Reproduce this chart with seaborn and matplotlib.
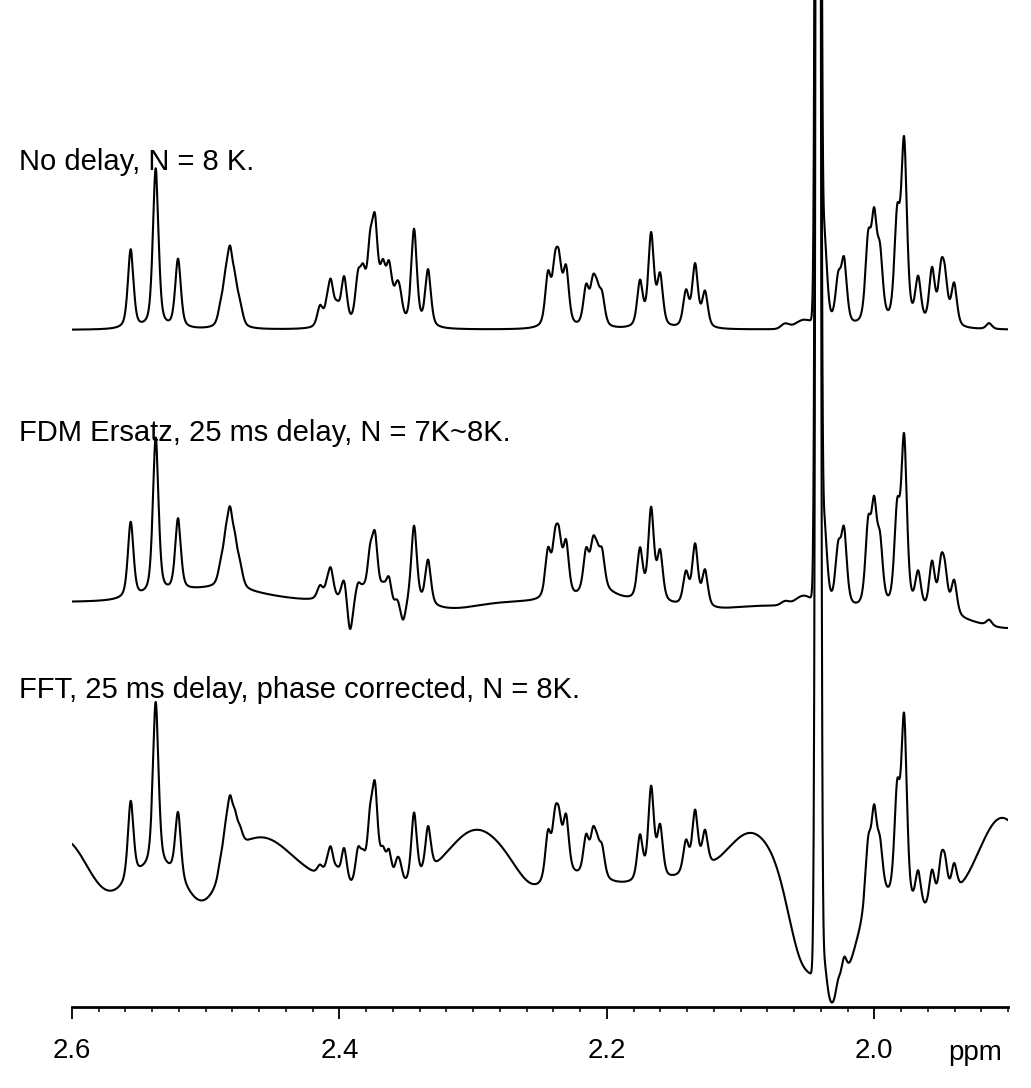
import numpy as np
import pandas as pd
import matplotlib
matplotlib.use("Agg")
import matplotlib.pyplot as plt
from matplotlib.ticker import MultipleLocator
import seaborn as sns

# peak table (ppm), heights in plot units for each trace
pos = [2.5561, 2.5374, 2.5207,
       2.4886, 2.4850, 2.4818, 2.4781, 2.4743,
       2.4145, 2.4093, 2.4065, 2.4018, 2.3965, 2.3921, 2.3861, 2.3823,
       2.3771, 2.3734, 2.3696, 2.3674, 2.3629, 2.3599, 2.3569, 2.3547,
       2.3524, 2.3442, 2.3337,
       2.2440, 2.2387, 2.2357, 2.2305,
       2.2155, 2.2103, 2.2073, 2.2036,
       2.1752, 2.1669, 2.1602,
       2.1408, 2.1340, 2.1266,
       2.0375, 2.0270, 2.0226, 2.0046, 2.0001, 1.9957,
       1.9829, 1.9777, 1.9672, 1.9568, 1.9500, 1.9471, 1.9403, 1.9141]
h_top = [79, 160, 69,
         17, 34, 61, 34, 17,
         20, 12, 40, 15, 47, 0, 42, 42,
         65, 88, 8, 45, 50, 8, 25, 20,
         0, 97, 57,
         50, 50, 50, 55,
         38, 38, 25, 28,
         45, 92, 50,
         35, 62, 35,
         95, 43, 62, 78, 95, 62,
         100, 178, 45, 55, 48, 38, 42, 6]
h_fdm = [76, 157, 72,
         17, 34, 60, 34, 17,
         13, 8, 29, 0, 24, -35, 16, 7,
         40, 58, 0, 10, 24, -8, 5, 0,
         -22, 78, 45,
         46, 47, 47, 52,
         40, 40, 24, 34,
         50, 91, 48,
         32, 61, 36,
         85, 53, 72, 76, 91, 58,
         92, 167, 36, 48, 43, 33, 34, 6]
h_fft = [79, 166, 66,
         14, 28, 50, 28, 14,
         10, 8, 30, 10, 37, 0, 35, 25,
         60, 92, 5, 30, 34, 0, 20, 15,
         0, 70, 46,
         46, 49, 43, 55,
         38, 38, 23, 28,
         45, 92, 51,
         32, 60, 36,
         35, 20, 28, 60, 80, 45,
         105, 185, 38, 38, 38, 32, 30, 0]

# the tall singlet near 2.04 ppm (runs off the top of the frame)
big_pos = 2.0420
big_height = [3000, 3000, 3000]

# trace offsets and slow baseline components (centre ppm, amplitude, sigma ppm)
offsets = [677, 405, 140]
base_top = [(2.0667, 5, 0.003), (2.053, 8, 0.006)]
base_fdm = [(2.493, 13, 0.035), (2.317, -7, 0.02), (2.205, 9, 0.012),
            (2.125, -7, 0.025), (2.0667, 4, 0.003), (2.053, 10, 0.006),
            (1.98, -12, 0.06), (1.895, -22, 0.03)]
base_fft = [(2.605, 30, 0.015), (2.5731, -28, 0.015), (2.502, -38, 0.013),
            (2.4571, 30, 0.02), (2.372, -30, 0.035), (2.2986, 40, 0.02),
            (2.2552, -20, 0.012), (2.1826, -18, 0.04), (2.0929, 35, 0.016),
            (2.0525, -95, 0.011), (2.0318, -100, 0.009), (2.018, -60, 0.01),
            (1.966, -50, 0.03), (1.906, 55, 0.015)]

labels = ["No delay, N = 8 K.",
          "FDM Ersatz, 25 ms delay, N = 7K~8K.",
          "FFT, 25 ms delay, phase corrected, N = 8K."]


def pv(x, c, h, fwhm=0.0050, eta=0.5):
    d = (x - c) / (fwhm / 2)
    return h * (eta / (1 + d**2) + (1 - eta) * np.exp(-np.log(2) * d**2))


ppm = np.linspace(1.9, 2.6, 14001)
frames = []
for k, (heights, base) in enumerate(zip([h_top, h_fdm, h_fft],
                                        [base_top, base_fdm, base_fft])):
    y = np.full_like(ppm, offsets[k], dtype=float)
    for c, h in zip(pos, heights):
        y += pv(ppm, c, h)
    y += pv(ppm, big_pos, big_height[k], fwhm=0.0032, eta=0.0)
    for c, a, s in base:
        y += a * np.exp(-0.5 * ((ppm - c) / s) ** 2)
    frames.append(pd.DataFrame({"ppm": ppm, "intensity": y, "trace": k}))
df = pd.concat(frames, ignore_index=True)

sns.set_style("white")
plt.rcParams["font.family"] = ["Liberation Sans", "DejaVu Sans"]
plt.rcParams["text.color"] = "black"
plt.rcParams["xtick.color"] = "black"
plt.rcParams["xtick.labelcolor"] = "black"

fig = plt.figure(figsize=(10.31, 10.88), dpi=100)
ax = fig.add_axes([72 / 1031, 81 / 1088, 936 / 1031, 1007 / 1088])
sns.lineplot(data=df, x="ppm", y="intensity", units="trace", estimator=None,
             color="black", lw=1.5, sort=False, ax=ax)

ax.set_xlim(2.6, 1.9)
ax.set_ylim(0, 1007)
for side in ["left", "top", "right"]:
    ax.spines[side].set_visible(False)
ax.spines["bottom"].set_linewidth(2)
ax.spines["bottom"].set_color("black")
ax.set_yticks([])
ax.set_xlabel("")
ax.set_ylabel("")
ax.set_xticks([2.6, 2.4, 2.2, 2.0])
ax.set_xticklabels(["2.6", "2.4", "2.2", "2.0"])
ax.xaxis.set_minor_locator(MultipleLocator(0.02))
ax.tick_params(axis="x", which="both", bottom=True, direction="out",
               color="black", labelcolor="black")
ax.tick_params(axis="x", which="major", length=8.6, width=1.3,
               labelsize=20, pad=14)
ax.tick_params(axis="x", which="minor", length=3.8, width=1.1)

fig.text(975 / 1031, 28 / 1088, "ppm", ha="center", va="baseline",
         fontsize=20, color="black")
for lab, yb in zip(labels, [170, 441, 698]):
    fig.text(19 / 1031, 1 - yb / 1088, lab, ha="left", va="baseline",
             fontsize=21, color="black")

fig.savefig("out.png", dpi=100)
